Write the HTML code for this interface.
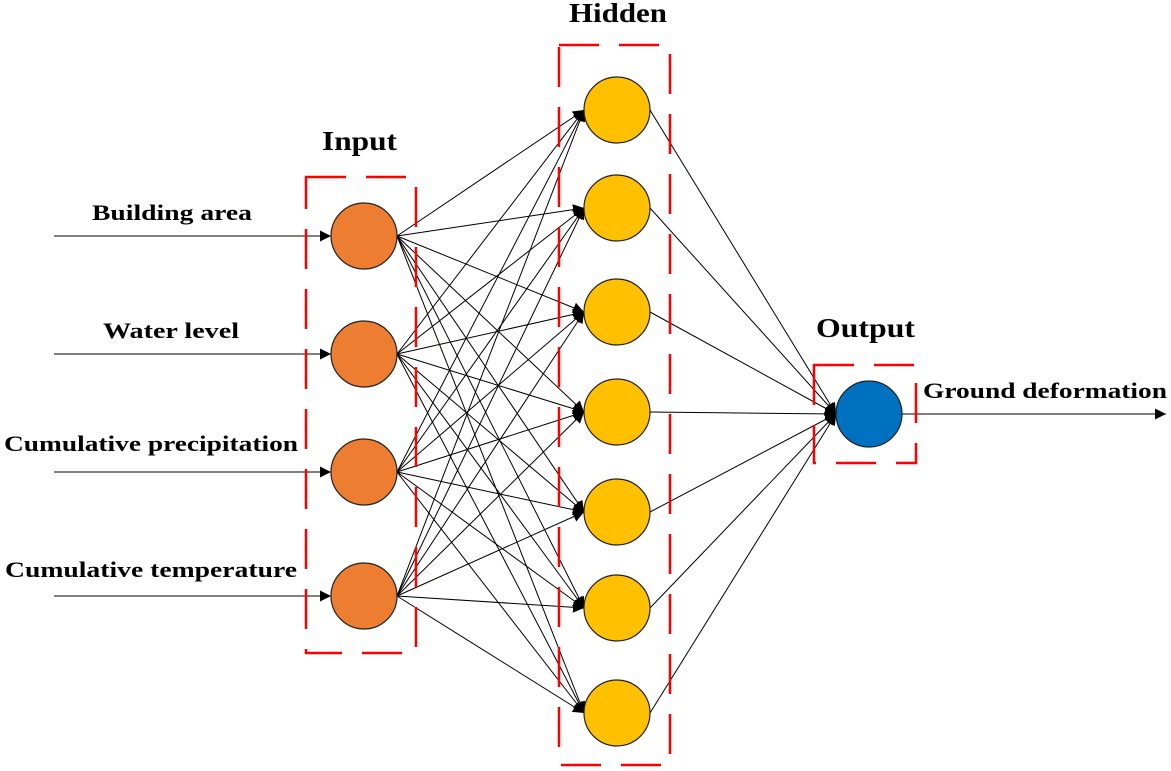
<!DOCTYPE html>
<html><head><meta charset="utf-8"><style>
html,body{margin:0;padding:0;background:#fff;}
svg{display:block;}
text{font-family:"Liberation Serif",serif;font-weight:bold;fill:#000;}
</style></head><body>
<svg id="s" width="1171" height="771" viewBox="0 0 1171 771" xmlns="http://www.w3.org/2000/svg">
<defs>
<marker id="a" viewBox="0 0 10 10" refX="10" refY="5" markerWidth="11" markerHeight="11" markerUnits="userSpaceOnUse" orient="auto"><path d="M0,0L10,5L0,10z" fill="#000"/></marker>
</defs>
<g id="lines" stroke="#000" stroke-width="1" fill="none"></g>
<g fill="none" stroke="#ff0000" stroke-width="2.5" stroke-dasharray="40,20">
<rect x="306" y="177" width="110" height="476"/>
<rect x="559" y="45" width="111" height="720"/>
<rect x="814" y="365" width="102" height="98"/>
</g>
<g id="nodes" stroke="#222" stroke-width="1.2"></g>
<g font-size="22">
<text x="92" y="220" textLength="160" lengthAdjust="spacingAndGlyphs">Building area</text>
<text x="103" y="338" textLength="136" lengthAdjust="spacingAndGlyphs">Water level</text>
<text x="4" y="451" textLength="294" lengthAdjust="spacingAndGlyphs">Cumulative precipitation</text>
<text x="5" y="577" textLength="292" lengthAdjust="spacingAndGlyphs">Cumulative temperature</text>
<text x="923" y="398" textLength="244" lengthAdjust="spacingAndGlyphs">Ground deformation</text>
</g>
<g font-size="27">
<text x="322" y="150" textLength="75" lengthAdjust="spacingAndGlyphs">Input</text>
<text x="569" y="22" textLength="98" lengthAdjust="spacingAndGlyphs">Hidden</text>
<text x="816" y="337" textLength="99" lengthAdjust="spacingAndGlyphs">Output</text>
</g>
</svg>
<script>
var NS="http://www.w3.org/2000/svg";
var L=document.getElementById("lines"),N=document.getElementById("nodes");
function line(x1,y1,x2,y2,m){var l=document.createElementNS(NS,"line");l.setAttribute("x1",x1);l.setAttribute("y1",y1);l.setAttribute("x2",x2);l.setAttribute("y2",y2);if(m)l.setAttribute("marker-end","url(#a)");L.appendChild(l);}
function circ(x,y,r,f){var c=document.createElementNS(NS,"circle");c.setAttribute("cx",x);c.setAttribute("cy",y);c.setAttribute("r",r);c.setAttribute("fill",f);N.appendChild(c);}
var inY=[236,354,472,596],hY=[110,208,312,412,512,608,713],ix=364,hx=617,r=33,ox=869,oy=414;
inY.forEach(function(y){line(54,y,ix-r,y,1);});
inY.forEach(function(y1){hY.forEach(function(y2){line(ix+r,y1,hx-r,y2,1);});});
hY.forEach(function(y){line(hx+r,y,ox-r,oy,1);});
line(ox+r,oy,1166,oy,1);
inY.forEach(function(y){circ(ix,y,r,"#ed7d31");});
hY.forEach(function(y){circ(hx,y,r,"#ffc000");});
circ(ox,oy,r,"#0070c0");
</script>
</body></html>
